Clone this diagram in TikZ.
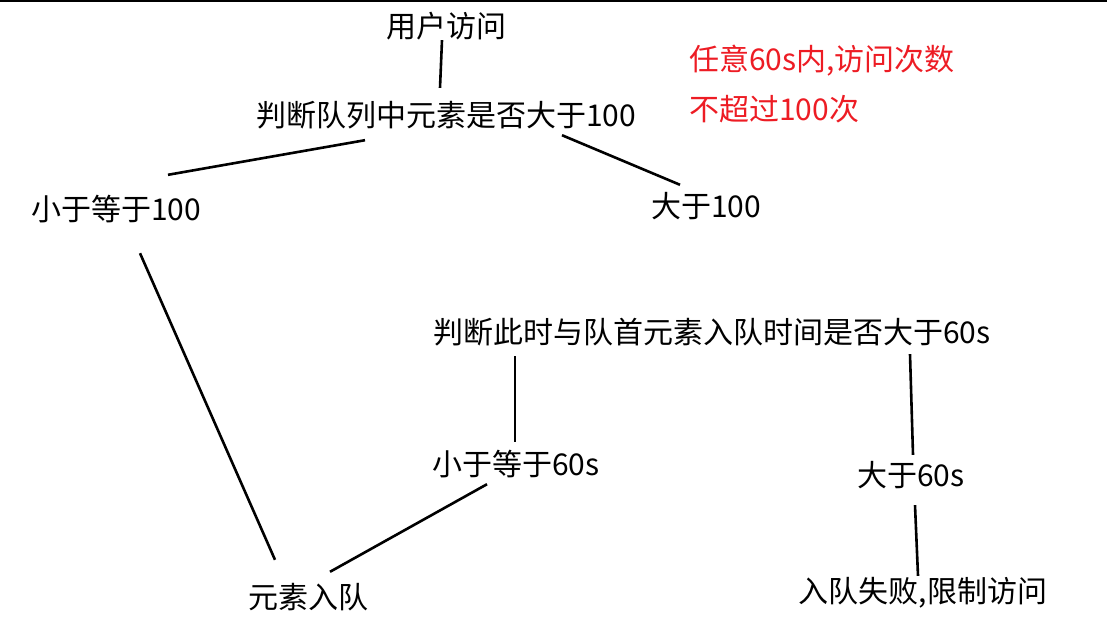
\documentclass[tikz,border=0pt]{standalone}
\usepackage{fontspec}
\setmainfont{Noto Sans CJK SC}
\usetikzlibrary{positioning}
\definecolor{notered}{RGB}{237,28,36}

\begin{document}
\begin{tikzpicture}[
      x=1pt, y=-1pt,
      txt/.style={inner sep=0pt, text height=24pt, text depth=4pt, font=\fontsize{30}{36}\selectfont},
      note/.style={inner sep=0pt, anchor=west, align=left, text=notered, font=\fontsize{30}{50}\selectfont},
      line/.style={line width=2.6pt}
    ]
      \useasboundingbox (0,0) rectangle (1107,643);
      \draw[line width=2pt] (0,1) -- (1107,1);

      \node[txt] (user) at (446,27) {用户访问};
      \node[txt] (check100) at (446,116) {判断队列中元素是否大于100};
      \node[txt] (le100) at (116,210) {小于等于100};
      \node[txt] (gt100) at (706,207) {大于100};
      \node[note] (rule) at (689,84) {任意60s内,访问次数\\不超过100次};
      \node[txt] (check60) at (712,333) {判断此时与队首元素入队时间是否大于60s};
      \node[txt] (le60) at (516,465) {小于等于60s};
      \node[txt] (gt60) at (911,476) {大于60s};
      \node[txt] (enqueue) at (308,598) {元素入队};
      \node[txt] (reject) at (923,592) {入队失败,限制访问};

      \draw[line] ([xshift=-4pt,yshift=1pt]user.south) -- ([xshift=-6pt,yshift=14pt]check100.north);
      \draw[line] ([xshift=-81pt,yshift=-10pt]check100.south) -- ([xshift=52pt,yshift=21pt]le100.north);
      \draw[line] ([xshift=116pt,yshift=-5pt]check100.south) -- ([xshift=-26pt,yshift=8pt]gt100.north);
      \draw[line] ([xshift=24pt,yshift=-29pt]le100.south) -- ([xshift=-33pt,yshift=24pt]enqueue.north);
      \draw[line] ([xshift=-197pt,yshift=-9pt]check60.south) -- ([xshift=-1pt,yshift=9pt]le60.north);
      \draw[line] ([xshift=198pt,yshift=-7pt]check60.south) -- ([xshift=2pt,yshift=7pt]gt60.north);
      \draw[line] ([xshift=-29pt,yshift=-5pt]le60.south) -- ([xshift=22pt,yshift=12pt]enqueue.north);
      \draw[line] ([xshift=4pt,yshift=-15pt]gt60.south) -- ([xshift=-5pt,yshift=2pt]reject.north);
    \end{tikzpicture}
\end{document}
